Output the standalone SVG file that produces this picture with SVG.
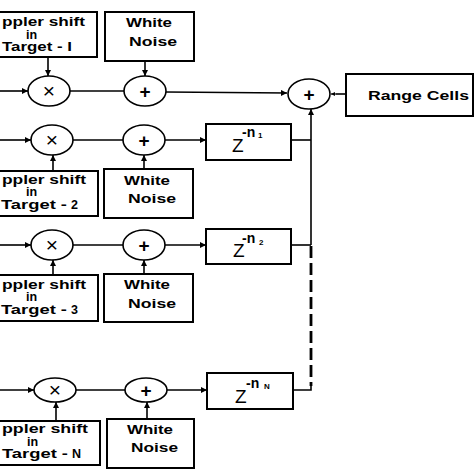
<svg xmlns="http://www.w3.org/2000/svg" width="474" height="474" viewBox="0 0 474 474">
<defs>
<marker id="ah" viewBox="0 0 10 10" refX="10" refY="5" markerWidth="6" markerHeight="6" markerUnits="userSpaceOnUse" orient="auto"><path d="M0,0 L10,5 L0,10 z" fill="#000"/></marker>
<marker id="ahs" viewBox="0 0 10 10" refX="10" refY="5" markerWidth="4" markerHeight="4" markerUnits="userSpaceOnUse" orient="auto"><path d="M0,0 L10,5 L0,10 z" fill="#000"/></marker>
</defs>
<style>
.box{fill:#fff;stroke:#000;stroke-width:2}
.op{fill:#fff;stroke:#000;stroke-width:1.6}
.ln{fill:none;stroke:#000;stroke-width:1.6}
.ar{fill:none;stroke:#000;stroke-width:1.6;marker-end:url(#ah)}
.dash{fill:none;stroke:#000;stroke-width:2.8;stroke-dasharray:12 5}
.t{font-family:"Liberation Sans",Arial,sans-serif;font-weight:bold;font-size:12.5px;fill:#000}
.mul{font-family:"Liberation Sans",Arial,sans-serif;font-size:21px;fill:#000;text-anchor:middle}
.add{font-family:"Liberation Sans",Arial,sans-serif;font-weight:bold;font-size:19px;fill:#000;text-anchor:middle}
.z{font-family:"Liberation Sans",Arial,sans-serif;font-size:19px;fill:#000}
.sup{font-family:"Liberation Sans",Arial,sans-serif;font-weight:bold;font-size:14px;fill:#000}
.sub{font-family:"Liberation Sans",Arial,sans-serif;font-weight:bold;font-size:8px;fill:#000}
</style>

<!-- Row 1 -->
<g id="doppler1"><rect class="box" x="-2" y="12" width="99" height="45"/>
<text class="t" x="2" y="26" textLength="83" lengthAdjust="spacingAndGlyphs">ppler shift</text>
<text class="t" x="26" y="38.5">in</text>
<text class="t" x="2" y="51" textLength="70" lengthAdjust="spacingAndGlyphs">Target - I</text></g>
<g id="noise1"><rect class="box" x="105" y="12" width="89" height="49"/>
<text class="t" x="126" y="27" textLength="46" lengthAdjust="spacingAndGlyphs">White</text>
<text class="t" x="129" y="46" textLength="48" lengthAdjust="spacingAndGlyphs">Noise</text></g>
<g id="mul1"><ellipse class="op" cx="49" cy="91" rx="21" ry="15"/><text class="mul" x="49" y="98">×</text></g>
<g id="add1"><ellipse class="op" cx="145" cy="91" rx="21" ry="15"/><text class="add" x="145" y="98">+</text></g>

<!-- Sum and range cells -->
<g id="sum"><ellipse class="op" cx="309" cy="94" rx="21" ry="15"/><text class="add" x="309" y="101">+</text></g>
<g id="range"><rect class="box" x="346" y="74" width="127" height="42"/>
<text class="t" x="368" y="100" textLength="101" lengthAdjust="spacingAndGlyphs" font-size="13.5">Range Cells</text></g>

<!-- Row 2 -->
<g id="doppler2"><rect class="box" x="-2" y="171" width="100" height="45"/>
<text class="t" x="2" y="183.5" textLength="84" lengthAdjust="spacingAndGlyphs">ppler shift</text>
<text class="t" x="26" y="196">in</text>
<text class="t" x="1" y="208.5" textLength="66" lengthAdjust="spacingAndGlyphs">Target -</text>
<text class="t" x="71" y="208.5" font-weight="normal">2</text></g>
<g id="noise2"><rect class="box" x="104" y="169" width="89" height="49"/>
<text class="t" x="124" y="185" textLength="46" lengthAdjust="spacingAndGlyphs">White</text>
<text class="t" x="128" y="203" textLength="48" lengthAdjust="spacingAndGlyphs">Noise</text></g>
<g id="mul2"><ellipse class="op" cx="52" cy="140" rx="21" ry="15"/><text class="mul" x="52" y="147">×</text></g>
<g id="add2"><ellipse class="op" cx="144" cy="140" rx="21" ry="15"/><text class="add" x="144" y="147">+</text></g>
<g id="delay1"><rect class="box" x="206" y="124" width="85" height="36"/>
<text class="z" x="232" y="152">Z</text><text class="sup" x="242" y="137">-n</text><text class="sub" x="258" y="138">1</text></g>

<!-- Row 3 -->
<g id="doppler3"><rect class="box" x="-2" y="275" width="100" height="46"/>
<text class="t" x="2" y="288.5" textLength="84" lengthAdjust="spacingAndGlyphs">ppler shift</text>
<text class="t" x="26" y="301">in</text>
<text class="t" x="1" y="313.5" textLength="66" lengthAdjust="spacingAndGlyphs">Target -</text>
<text class="t" x="71" y="313.5">3</text></g>
<g id="noise3"><rect class="box" x="104" y="274" width="89" height="48"/>
<text class="t" x="124" y="289" textLength="46" lengthAdjust="spacingAndGlyphs">White</text>
<text class="t" x="128" y="308" textLength="48" lengthAdjust="spacingAndGlyphs">Noise</text></g>
<g id="mul3"><ellipse class="op" cx="52" cy="245" rx="21" ry="15"/><text class="mul" x="52" y="252">×</text></g>
<g id="add3"><ellipse class="op" cx="144" cy="245" rx="21" ry="15"/><text class="add" x="144" y="252">+</text></g>
<g id="delay2"><rect class="box" x="206" y="229" width="85" height="35"/>
<text class="z" x="233" y="257">Z</text><text class="sup" x="242" y="243">-n</text><text class="sub" x="259" y="245">2</text></g>

<!-- Row N -->
<g id="dopplerN"><rect class="box" x="-2" y="421" width="102" height="44"/>
<text class="t" x="2" y="433" textLength="86" lengthAdjust="spacingAndGlyphs">ppler shift</text>
<text class="t" x="27" y="445.5">in</text>
<text class="t" x="2" y="458" textLength="66" lengthAdjust="spacingAndGlyphs">Target -</text>
<text class="t" x="72" y="458" font-size="10">N</text></g>
<g id="noiseN"><rect class="box" x="107" y="419" width="87" height="49"/>
<text class="t" x="127" y="434" textLength="46" lengthAdjust="spacingAndGlyphs">White</text>
<text class="t" x="131" y="452" textLength="47" lengthAdjust="spacingAndGlyphs">Noise</text></g>
<g id="mulN"><ellipse class="op" cx="55" cy="390" rx="21" ry="12"/><text class="mul" x="55" y="397">×</text></g>
<g id="addN"><ellipse class="op" cx="146" cy="390" rx="21" ry="12"/><text class="add" x="146" y="397">+</text></g>
<g id="delayN"><rect class="box" x="207" y="373" width="86" height="36"/>
<text class="z" x="235" y="403">Z</text><text class="sup" x="246" y="388">-n</text><text class="sub" x="264" y="389">N</text></g>

<!-- Connectors -->
<g id="connectors">
<line class="ar" x1="0" y1="91" x2="28" y2="91"/>
<line class="ln" x1="70" y1="91" x2="124" y2="91"/>
<line class="ar" x1="166" y1="92" x2="287" y2="93"/>
<line class="ar" x1="48" y1="58" x2="48" y2="76"/>
<line class="ar" x1="145" y1="62" x2="145" y2="76"/>
<line class="ln" x1="346" y1="94" x2="336" y2="94"/>
<line style="fill:none;stroke:#000;stroke-width:1.2;marker-end:url(#ahs)" x1="336" y1="94" x2="331" y2="94"/>

<line class="ar" x1="0" y1="140" x2="31" y2="140"/>
<line class="ln" x1="73" y1="140" x2="123" y2="140"/>
<line class="ar" x1="165" y1="140" x2="206" y2="140"/>
<line class="ar" x1="53" y1="171" x2="53" y2="155"/>
<line class="ar" x1="144" y1="169" x2="144" y2="155"/>
<polyline class="ln" points="291,140 311,140"/>

<line class="ar" x1="0" y1="245" x2="31" y2="245"/>
<line class="ln" x1="73" y1="245" x2="123" y2="245"/>
<line class="ar" x1="165" y1="245" x2="206" y2="245"/>
<line class="ar" x1="53" y1="275" x2="53" y2="260"/>
<line class="ar" x1="144" y1="274" x2="144" y2="260"/>
<polyline class="ln" points="291,245 311,245"/>
<line class="ar" x1="311" y1="245" x2="311" y2="109"/>

<line class="ar" x1="0" y1="390" x2="34" y2="390"/>
<line class="ln" x1="76" y1="390" x2="125" y2="390"/>
<line class="ar" x1="167" y1="390" x2="207" y2="390"/>
<line class="ar" x1="56" y1="421" x2="56" y2="402"/>
<line class="ar" x1="147" y1="419" x2="147" y2="402"/>
<polyline class="ln" points="293,390 311,390 311,384"/>
<line class="dash" x1="311" y1="246" x2="311" y2="386"/>
</g>
</svg>
